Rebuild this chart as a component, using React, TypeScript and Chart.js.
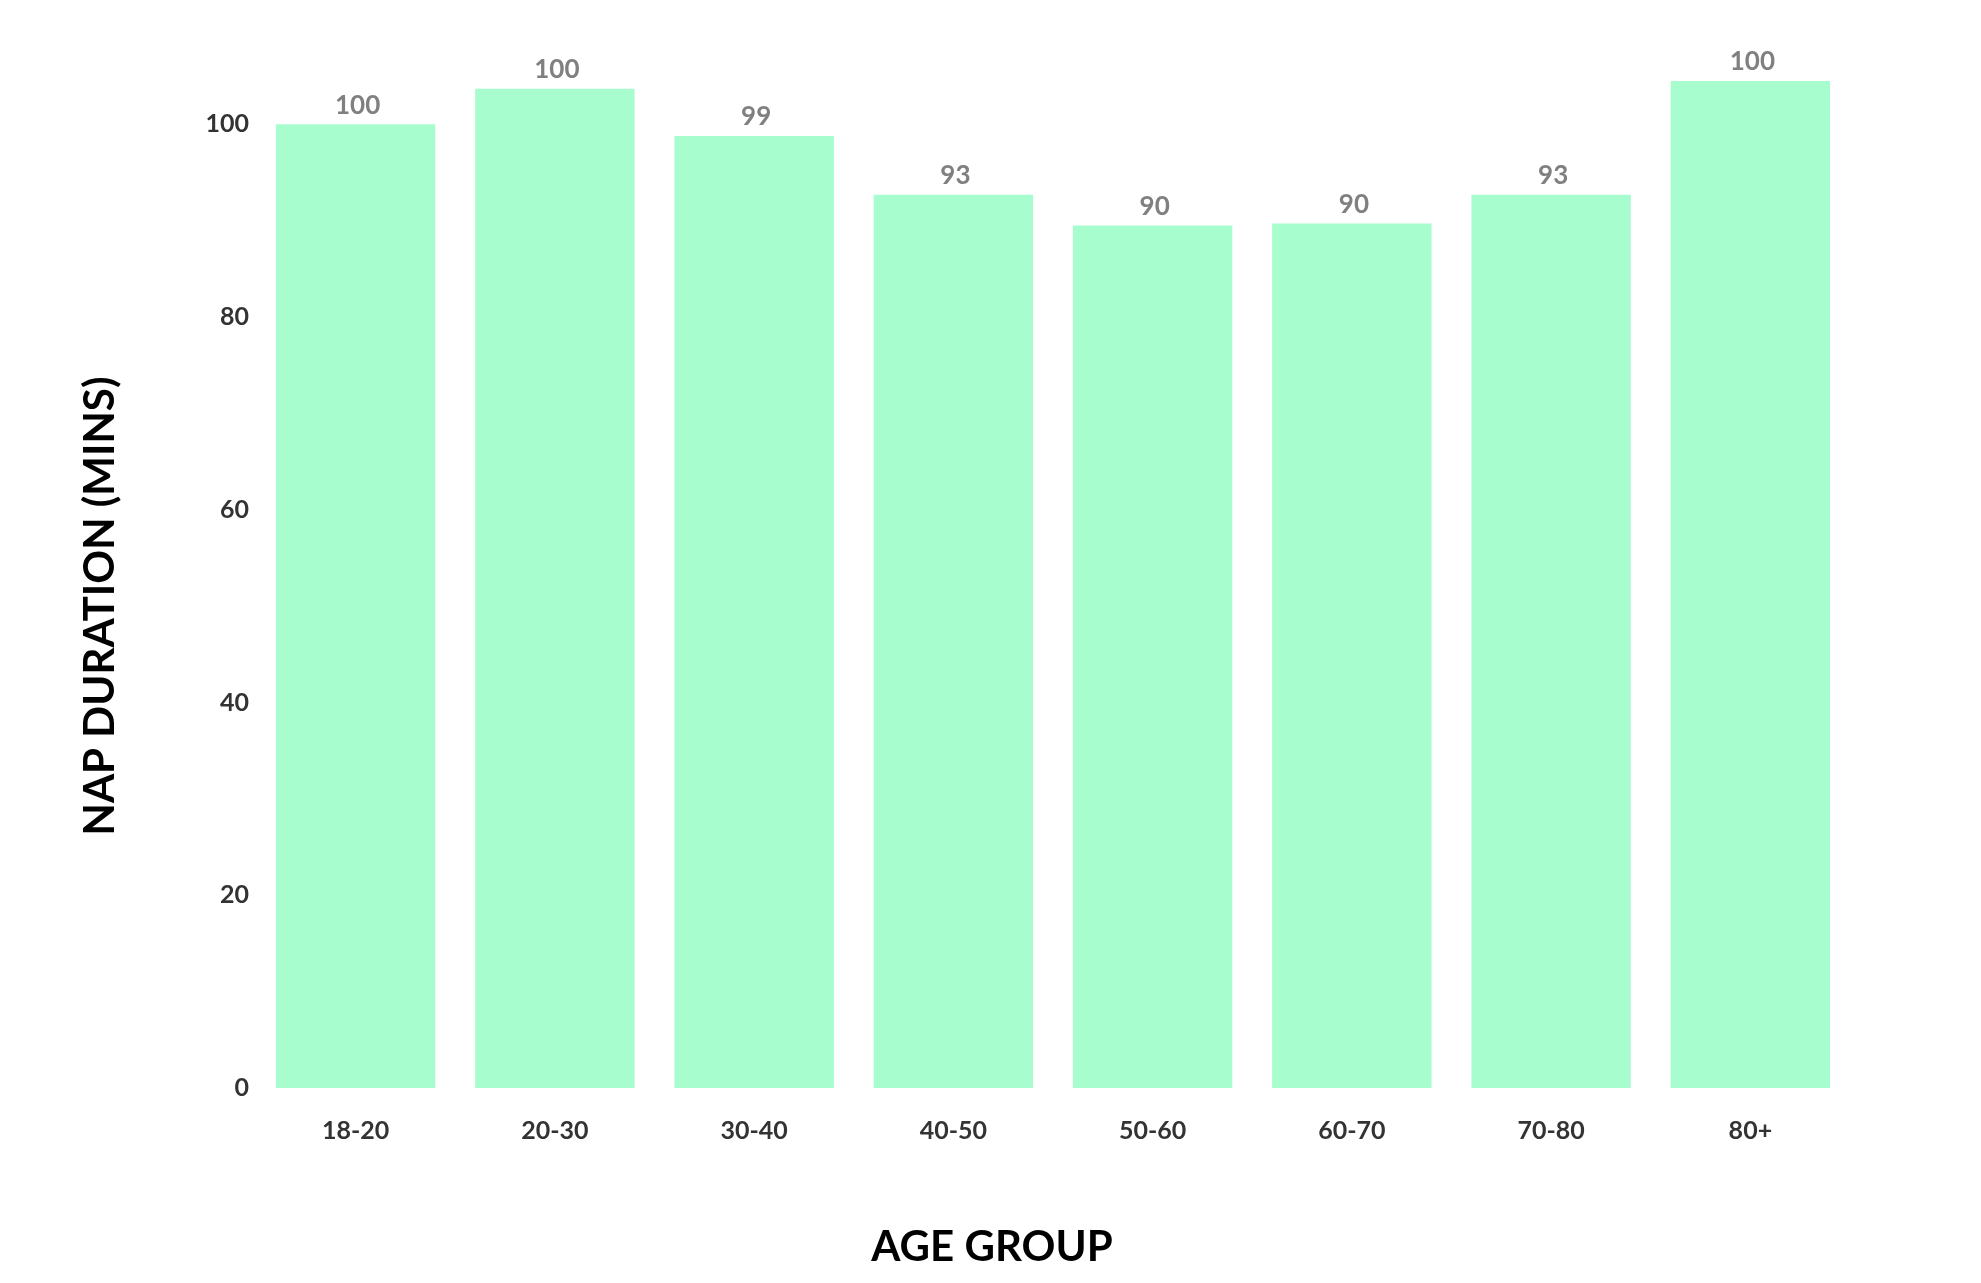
import React, { useEffect, useRef } from "react";
import { Chart, registerables } from "chart.js";

Chart.register(...registerables);

const categories = ["18-20", "20-30", "30-40", "40-50", "50-60", "60-70", "70-80", "80+"];
const barValues = [100, 103.7, 98.8, 92.7, 89.5, 89.7, 92.7, 104.5];
const valueLabels = ["100", "100", "99", "93", "90", "90", "93", "100"];
const yTicks = [0, 20, 40, 60, 80, 100];
const yTitle = "NAP DURATION (MINS)";
const xTitle = "AGE GROUP";

const FONT = "Lato, 'Open Sans', sans-serif";

export default function App() {
  const ref = useRef<HTMLCanvasElement | null>(null);

  useEffect(() => {
    document.body.style.margin = "0";
    const canvas = ref.current;
    if (!canvas) return;

    const labelPlugin = {
      id: "customText",
      afterDatasetsDraw(chart: any) {
        const ctx = chart.ctx;
        const meta = chart.getDatasetMeta(0);
        ctx.save();
        ctx.fillStyle = "#808080";
        ctx.font = `bold 26px ${FONT}`;
        ctx.textAlign = "center";
        ctx.textBaseline = "middle";
        meta.data.forEach((bar: any, i: number) => {
          ctx.fillText(valueLabels[i], bar.x + 2, bar.y - 19);
        });
        ctx.restore();
      },
      afterDraw(chart: any) {
        const ctx = chart.ctx;
        ctx.save();
        ctx.fillStyle = "#000000";
        ctx.font = `bold 42px ${FONT}`;
        ctx.textAlign = "center";
        ctx.textBaseline = "middle";
        ctx.fillText(xTitle, 992, 1247);
        ctx.translate(100, 606);
        ctx.rotate(-Math.PI / 2);
        ctx.fillText(yTitle, 0, 0);
        ctx.restore();
      },
    };

    const chart = new Chart(canvas, {
      type: "bar",
      data: {
        labels: categories,
        datasets: [
          {
            data: barValues,
            backgroundColor: "#a7fdce",
            borderWidth: 0,
            barPercentage: 0.8,
            categoryPercentage: 1.0,
          },
        ],
      },
      options: {
        animation: false,
        responsive: false,
        devicePixelRatio: 1,
        layout: { padding: { top: 28, right: 131, left: 0, bottom: 0 } },
        plugins: {
          legend: { display: false },
          tooltip: { enabled: false },
          title: { display: false },
        },
        scales: {
          x: {
            grid: { display: false, drawTicks: false },
            border: { display: false },
            ticks: {
              color: "#333333",
              font: { family: FONT, size: 25, weight: "bold" },
              padding: 28,
              maxRotation: 0,
            },
            afterFit(scale: any) {
              scale.height = 195;
            },
          },
          y: {
            min: 0,
            max: 110,
            grid: { display: false, drawTicks: false },
            border: { display: false },
            ticks: {
              color: "#333333",
              font: { family: FONT, size: 25, weight: "bold" },
              padding: 7,
            },
            afterBuildTicks(scale: any) {
              scale.ticks = yTicks.map((v) => ({ value: v }));
            },
            afterFit(scale: any) {
              scale.width = 256;
            },
          },
        },
      },
      plugins: [labelPlugin],
    });

    return () => chart.destroy();
  }, []);

  return (
    <div style={{ width: 1981, height: 1283, background: "#ffffff" }}>
      <canvas ref={ref} width={1981} height={1283} style={{ display: "block" }} />
    </div>
  );
}
